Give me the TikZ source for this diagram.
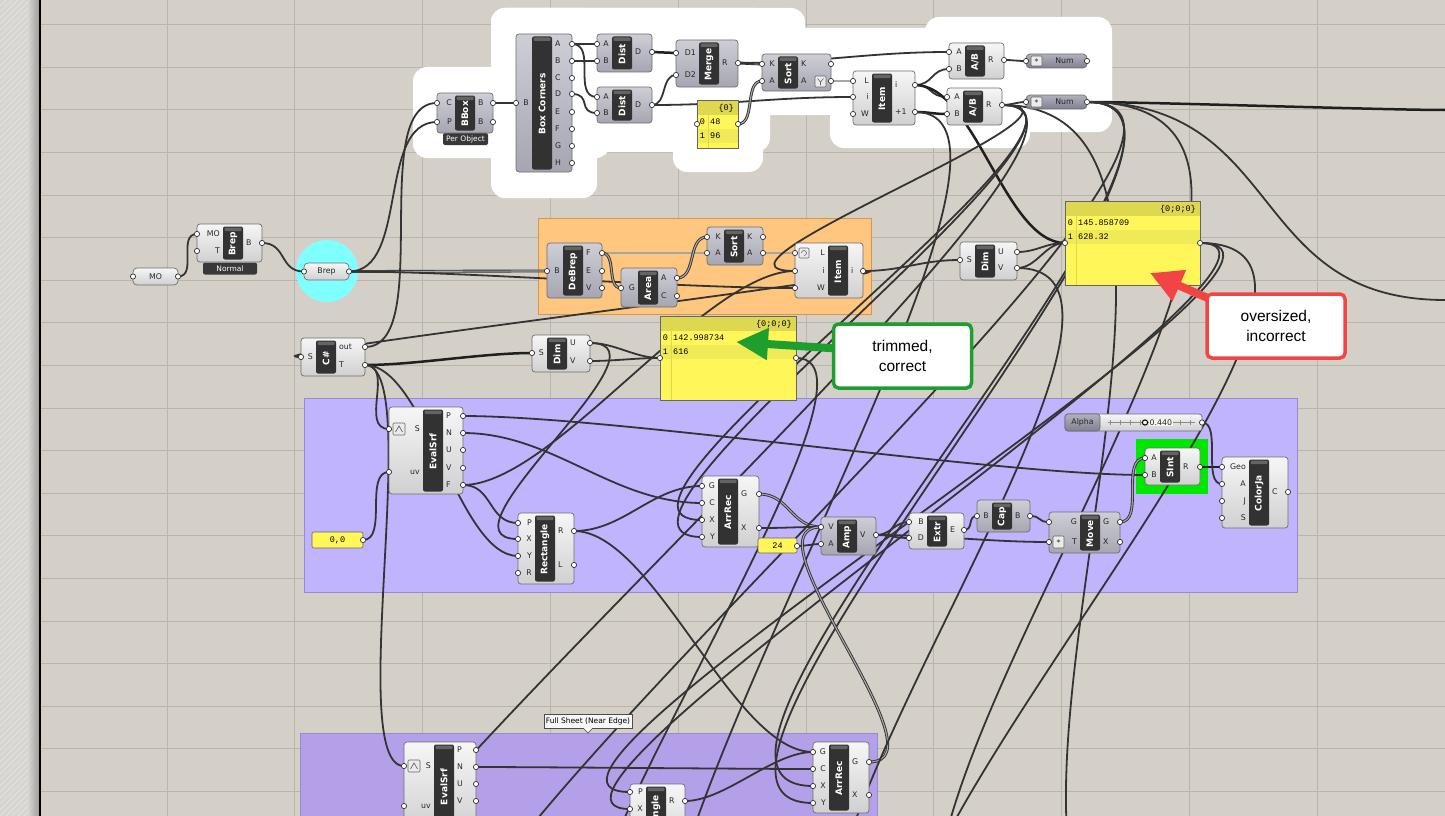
\documentclass[tikz,border=0pt]{standalone}
\usepackage{fontspec}
\setmainfont{DejaVu Sans}
\setsansfont{DejaVu Sans}
\newfontfamily\callfont{Liberation Sans}
\newfontfamily\panelfont{Liberation Mono}
\usetikzlibrary{arrows.meta}

\definecolor{canvas}{RGB}{212,208,200}
\definecolor{gridc}{RGB}{184,180,174}
\definecolor{stripc}{RGB}{214,212,206}
\definecolor{wirec}{RGB}{52,52,52}
\definecolor{ghedge}{RGB}{110,110,110}
\definecolor{ghtop}{RGB}{246,246,246}
\definecolor{ghbot}{RGB}{208,208,208}
\definecolor{dktop}{RGB}{206,206,214}
\definecolor{dkbot}{RGB}{166,166,178}
\definecolor{barc}{RGB}{50,50,50}
\definecolor{barhi}{RGB}{100,100,100}
\definecolor{panely}{RGB}{255,246,90}
\definecolor{panelh}{RGB}{222,216,80}
\definecolor{panelr}{RGB}{240,234,86}
\definecolor{orangeg}{RGB}{255,198,128}
\definecolor{orangeb}{RGB}{214,150,80}
\definecolor{purpa}{RGB}{192,180,255}
\definecolor{purpb}{RGB}{180,160,232}
\definecolor{purpe}{RGB}{150,138,212}
\definecolor{cyanc}{RGB}{128,255,255}
\definecolor{greenh}{RGB}{0,232,0}
\definecolor{redc}{RGB}{242,68,68}
\definecolor{greenc}{RGB}{30,158,46}
\definecolor{numtop}{RGB}{176,176,190}
\definecolor{numbot}{RGB}{128,128,146}

\pgfdeclarelayer{back}
\pgfdeclarelayer{wirelayer}
\pgfsetlayers{back,wirelayer,main}

% component: [style]{name}{x1}{y1}{x2}{y2}{bar x}{title}{side/y/label/id}
\newcommand{\ghcomp}[9][ghlite]{%
  \draw[#1] (#3,#4) rectangle (#5,#6);
  \fill[barc, rounded corners=2pt] (#7,#4+2.5) rectangle (#7+20,#6-2.5);
  \fill[barhi, rounded corners=1pt] (#7+1.5,#4+3.5) rectangle (#7+18.5,#4+7);
  \node[ghtitle] (#2) at (#7+10,{(#4+#6)/2+1}) {#8};
  \foreach \s/\py/\lab/\id in {#9}{%
    \ifnum\s=0
      \coordinate (#2-l-\id) at (#3,\py);
      \node[ghlab, anchor=east] (#2-l-\id-t) at (#7-2,\py) {\lab};
      \draw[ghport] (#3,\py) circle (2.6pt);
    \else
      \coordinate (#2-r-\id) at (#5,\py);
      \node[ghlab, anchor=west] (#2-r-\id-t) at (#7+22,\py) {\lab};
      \draw[ghport] (#5,\py) circle (2.6pt);
    \fi
  }%
}

% parameter: [style]{name}{x1}{y1}{x2}{y2}{text}
\newcommand{\ghparam}[7][ghpar]{%
  \draw[#1] (#3,#4) rectangle (#5,#6);
  \node[ghlab] (#2) at ({(#3+#5)/2},{(#4+#6)/2}) {#7};
  \coordinate (#2-l) at (#3,{(#4+#6)/2});
  \coordinate (#2-r) at (#5,{(#4+#6)/2});
  \draw[ghport] (#2-l) circle (2.6pt);
  \draw[ghport] (#2-r) circle (2.6pt);
}

% panel: {name}{x1}{y1}{x2}{y2}{header}{row 0}{row 1}
\newcommand{\ghpanel}[8]{%
  \draw[panelbox] (#2,#3) rectangle (#4,#5);
  \fill[panelh] (#2+0.5,#3+0.5) rectangle (#4-0.5,#3+15);
  \fill[panelr] (#2+0.5,#3+29) rectangle (#4-0.5,#3+43);
  \draw[panelh, line width=0.6pt] (#2+11,#3+15) -- (#2+11,#5-0.5);
  \node[paneltxt, anchor=east] (#1-h) at (#4-4,#3+8) {#6};
  \node[paneltxt] (#1-i0) at (#2+5.5,#3+22) {0};
  \node[paneltxt, anchor=west] (#1-v0) at (#2+13,#3+22) {#7};
  \node[paneltxt] (#1-i1) at (#2+5.5,#3+36) {1};
  \node[paneltxt, anchor=west] (#1-v1) at (#2+13,#3+36) {#8};
  \coordinate (#1-l) at (#2,{(#3+#5)/2});
  \coordinate (#1-r) at (#4,{(#3+#5)/2});
  \draw[ghport] (#1-l) circle (2.6pt);
  \draw[ghport] (#1-r) circle (2.6pt);
}

\begin{document}
\begin{tikzpicture}[x=1pt, y=-1pt,
    ghlite/.style={draw=ghedge, line width=0.7pt, rounded corners=3pt, top color=ghtop, bottom color=ghbot},
    ghdark/.style={draw=ghedge, line width=0.7pt, rounded corners=3pt, top color=dktop, bottom color=dkbot},
    ghpar/.style={ghlite, rounded corners=4pt},
    ghnum/.style={draw=ghedge, line width=0.7pt, rounded corners=4pt, top color=numtop, bottom color=numbot},
    ghtitle/.style={rotate=90, text=white, inner sep=0pt, font=\fontsize{9}{9}\selectfont\bfseries},
    ghlab/.style={inner sep=1pt, text=black!85, font=\fontsize{7.8}{8}\selectfont},
    ghport/.style={draw=black!80, fill=white, line width=0.7pt},
    ghtag/.style={fill=black!78, text=white, inner sep=0pt, minimum height=12pt, rounded corners=2pt, font=\fontsize{7.5}{8}\selectfont},
    ghicon/.style={draw=black!60, fill=black!8, line width=0.6pt, rounded corners=1pt},
    panelbox/.style={draw=black!60, fill=panely, line width=0.6pt},
    paneltxt/.style={inner sep=0pt, font=\panelfont\fontsize{8.5}{9}\selectfont},
    wire/.style={draw=wirec, line width=1.8pt},
    twire/.style={draw=black!88, line width=2.5pt},
    dwire/.style={draw=wirec, line width=0.9pt, double=black!35, double distance=1.1pt},
    ghw/.style={to path={.. controls +(#1,0) and +(-#1,0) .. (\tikztotarget)}},
    ghw/.default=40,
    notebox/.style={fill=white, line width=3.5pt, rounded corners=5pt, minimum width=138pt, minimum height=64pt, align=center, font=\callfont\fontsize{15.5}{20}\selectfont},
  ]

  \useasboundingbox (0,0) rectangle (1445,816);
  \clip (0,0) rectangle (1445,816);

  \begin{pgfonlayer}{back}
    % canvas, grid and window edge
    \fill[canvas] (0,0) rectangle (1445,816);
    \foreach \i in {1,...,11}
      \draw[gridc, line width=0.8pt] ({39.2+127.8*\i},0) -- ++(0,816);
    \foreach \j in {0,...,18}
      \draw[gridc, line width=0.8pt] (40,{24.6+42.6*\j}) -- ++(1405,0);
    \fill[stripc] (0,0) rectangle (40,816);
    \begin{scope}
      \clip (0,0) rectangle (40,816);
      \foreach \k in {0,6,...,870}
        \draw[black!12, line width=1.2pt] (0,\k) -- (40,{\k-40});
    \end{scope}
    \shade[left color=stripc, right color=black!45, opacity=0.8] (28,0) rectangle (40,816);
    \draw[black, line width=1.2pt] (40,0) -- (40,816);

    % groups
    \fill[white, rounded corners=14pt] (413,67) rectangle (610,158);
    \fill[white, rounded corners=14pt] (491,8) rectangle (597,198);
    \fill[white, rounded corners=14pt] (491,8) rectangle (770,152);
    \fill[white, rounded corners=14pt] (491,8) rectangle (805,70);
    \fill[white, rounded corners=14pt] (673,95) rectangle (763,172);
    \fill[white, rounded corners=14pt] (740,28) rectangle (1112,115);
    \fill[white, rounded corners=14pt] (830,40) rectangle (1030,148);
    \fill[white, rounded corners=14pt] (925,17) rectangle (1112,132);
    \draw[fill=orangeg, draw=orangeb, line width=0.8pt] (538,218) rectangle (871,314);
    \draw[fill=purpa, draw=purpe, line width=0.8pt] (304,398) rectangle (1297,592);
    \draw[fill=purpb, draw=purpe, line width=0.8pt] (300,733) rectangle (877,840);
    \fill[cyanc] (327,271) circle (31pt);
    \fill[greenh] (1136,439) rectangle (1208,494);
  \end{pgfonlayer}

  % top group
  \node[ghtag, minimum width=45pt] (perobj) at (465.5,139) {Per Object};
  \ghcomp[ghdark]{bbox}{437}{93}{493}{133}{455}{BBox}{0/103/C/c, 0/122/P/p, 1/103/B/b1, 1/122/B/b2}
  \ghcomp[ghdark]{corners}{516}{34}{572}{172}{532}{Box Corners}{0/103/B/b, 1/44/A/a, 1/61/B/b, 1/78/C/c, 1/94/D/d, 1/112/E/e, 1/129/F/f, 1/146/G/g, 1/163/H/h}
  \ghcomp[ghdark]{dista}{597}{34}{652}{72}{612}{Dist}{0/44/A/a, 0/61/B/b, 1/52/D/d}
  \ghcomp[ghdark]{distb}{597}{87}{652}{123}{612}{Dist}{0/97/A/a, 0/113/B/b, 1/105/D/d}
  \ghcomp[ghdark]{merge}{676}{40}{738}{87}{699}{Merge}{0/53/D1/da, 0/75/D2/db, 1/63/R/r}
  \ghpanel{panel0}{697}{100}{738}{148}{\{0\}}{48}{96}
  \ghcomp[ghdark]{sorta}{762}{54}{831}{91}{778}{Sort}{0/64/K/k, 0/81/A/a, 1/64/K/k, 1/81/A/a}
  \draw[ghicon] (815,76) rectangle (826,87);
  \draw[black!60, line width=0.6pt] (817.5,78.5) -- (820.5,82) -- (823.5,78.5) (820.5,82) -- (820.5,85);
  \ghcomp{itema}{853}{71}{915}{125}{872}{Item}{0/81/L/l, 0/97/i/i, 0/114/W/w, 1/85/i/i, 1/112/+1/p}
  \ghcomp{diva}{949}{43}{1004}{79}{965}{A/B}{0/52/A/a, 0/69/B/b, 1/60/R/r}
  \ghcomp{divb}{947}{88}{1002}{125}{963}{A/B}{0/97/A/a, 0/114/B/b, 1/105/R/r}
  \ghparam[ghnum]{numa}{1026}{54}{1087}{68}{\hspace*{16pt}Num}
  \ghparam[ghnum]{numb}{1026}{95}{1087}{109}{\hspace*{16pt}Num}
  \draw[ghicon] (1031,56) rectangle (1042,66);
  \draw[ghicon] (1031,97) rectangle (1042,107);
  \node[ghlab, inner sep=0pt] (numaicon) at (1036.5,61.5) {*};
  \node[ghlab, inner sep=0pt] (numbicon) at (1036.5,102.5) {*};

  % brep input
  \ghparam{mo}{133}{268}{178}{285}{MO}
  \node[ghtag, minimum width=54pt] (normal) at (230,268.5) {Normal};
  \ghcomp{brep}{197}{224}{262}{262}{223}{Brep}{0/234/MO/mo, 0/251/T/t, 1/243/B/b}
  \ghparam{brepp}{304}{263}{349}{280}{Brep}

  % orange group
  \ghcomp[ghdark]{debrep}{547}{243}{602}{298}{563}{DeBrep}{0/271/B/b, 1/253/F/f, 1/271/E/e, 1/288/V/v}
  \ghcomp[ghdark]{area}{621}{268}{677}{307}{638}{Area}{0/288/G/g, 1/278/A/a, 1/296/C/c}
  \ghcomp[ghdark]{sortb}{707}{227}{763}{265}{724}{Sort}{0/237/K/k, 0/253/A/a, 1/237/K/k, 1/253/A/a}
  \ghcomp{itemb}{795}{243}{863}{298}{828}{Item}{0/253/L/l, 0/271/i/i, 0/288/W/w, 1/271/i/i}
  \draw[ghicon] (799,248) rectangle (809,258);
  \draw[black!60, line width=0.6pt] (801.5,253) arc (180:-90:2.5pt);

  \ghcomp{dima}{960}{242}{1017}{280}{975}{Dim}{0/260/S/s, 1/252/U/u, 1/268/V/v}
  \ghpanel{panelbig}{1065}{201}{1200}{285}{\{0;0;0\}}{145.858709}{628.32}

  % c# and dim
  \ghcomp{csharp}{301}{338}{365}{376}{316}{C\#}{0/357/S/s, 1/347/out/out, 1/365/T/t}
  \ghcomp{dimb}{532}{335}{590}{372}{547}{Dim}{0/353/S/s, 1/343/U/u, 1/361/V/v}
  \ghpanel{panelmid}{660}{316}{796}{400}{\{0;0;0\}}{142.998734}{616}

  % purple group
  \ghcomp{evala}{389}{407}{463}{494}{423}{EvalSrf}{0/429/S/s, 0/472/uv/uv, 1/416/P/p, 1/433/N/n, 1/450/U/u, 1/468/V/v, 1/485/F/f}
  \draw[ghicon] (393,423) rectangle (405,435);
  \draw[black!60, line width=0.7pt] (395.5,432) -- (399,426) -- (402.5,432);
  \draw[panelbox, rounded corners=2pt] (312,532) rectangle (363,548);
  \node[paneltxt] (panel00) at (337.5,540) {0,0};
  \coordinate (panel00-r) at (363,540);
  \draw[ghport] (panel00-r) circle (2.6pt);
  \ghcomp{recta}{518}{513}{574}{584}{535}{Rectangle}{0/523/P/p, 0/539/X/x, 0/556/Y/y, 0/573/R/r, 1/531/R/r, 1/565/L/l}
  \ghcomp{arra}{702}{476}{759}{547}{718}{ArrRec}{0/486/G/g, 0/503/C/c, 0/520/X/x, 0/537/Y/y, 1/494/G/g, 1/528/X/x}
  \draw[panelbox, rounded corners=2pt] (758,538) rectangle (797,553);
  \node[paneltxt] (panel24) at (777.5,545.5) {24};
  \coordinate (panel24-l) at (758,546);
  \coordinate (panel24-r) at (797,546);
  \draw[ghport] (panel24-r) circle (2.6pt);
  \ghcomp[ghdark]{amp}{821}{517}{876}{555}{837}{Amp}{0/527/V/v, 0/544/A/a, 1/535/V/v}
  \ghcomp{extr}{909}{513}{964}{549}{927}{Extr}{0/522/B/b, 0/538/D/d, 1/530/E/e}
  \ghcomp[ghdark]{cap}{977}{500}{1030}{532}{992}{Cap}{0/516/B/b, 1/516/B/b}
  \ghcomp[ghdark]{move}{1049}{512}{1120}{553}{1080}{Move}{0/522/G/g, 0/542/T/t, 1/522/G/g, 1/542/X/x}
  \draw[ghicon] (1053,536) rectangle (1064,548);
  \node[ghlab, inner sep=0pt] (moveicon) at (1058.5,542.5) {*};
  \ghcomp{sint}{1145}{448}{1200}{485}{1160}{SInt}{0/458/A/a, 0/475/B/b, 1/467/R/r}
  \ghcomp{colorja}{1222}{457}{1288}{528}{1249}{ColorJa}{0/467/Geo/geo, 0/484/A/a, 0/501/J/j, 0/518/S/s, 1/492/C/c}

  % slider
  \draw[ghlite] (1065,414) rectangle (1202,431);
  \draw[ghnum, rounded corners=3pt] (1065,414) rectangle (1100,431);
  \node[ghlab] (alpha) at (1082.5,422.5) {Alpha};
  \draw[black!45, line width=0.6pt] (1108,422.5) -- (1195,422.5);
  \foreach \t in {1110,1120,...,1190}
    \draw[black!45, line width=0.5pt] (\t,420) -- (\t,425);
  \draw[black, fill=white, line width=1pt] (1145,422.5) circle (2.6pt);
  \node[ghlab, anchor=west, fill=ghtop, inner sep=0.5pt] (alphaval) at (1149,422.5) {0.440};
  \coordinate (slider-r) at (1202,422.5);
  \draw[ghport] (slider-r) circle (2.6pt);

  % lower purple group
  \node[draw=black!70, fill=black!3, inner sep=2pt, minimum height=14pt, font=\fontsize{7.5}{8}\selectfont] (fullsheet) at (588,721) {Full Sheet (Near Edge)};
  \fill[black!3] (583,727.5) -- (593,727.5) -- (588,733) -- cycle;
  \draw[black!70, line width=0.4pt] (583,728) -- (588,733) -- (593,728);
  \ghcomp{evalb}{404}{742}{476}{830}{434}{EvalSrf}{0/766/S/s, 0/806/uv/uv, 1/750/P/p, 1/767/N/n, 1/784/U/u, 1/801/V/v}
  \draw[ghicon] (408,760) rectangle (420,772);
  \draw[black!60, line width=0.7pt] (410.5,769) -- (414,763) -- (417.5,769);
  \ghcomp{rectb}{630}{784}{685}{855}{646}{Rectangle}{0/792/P/p, 0/809/X/x, 1/801/R/r}
  \ghcomp{arrb}{813}{742}{869}{813}{829}{ArrRec}{0/752/G/g, 0/769/C/c, 0/786/X/x, 0/803/Y/y, 1/762/G/g, 1/795/X/x}

  % free ends of wires leaving the view
  \coordinate (offnum) at (1445,110);
  \coordinate (offa) at (330,1000);
  \coordinate (offb) at (480,1000);
  \coordinate (offc) at (600,980);
  \coordinate (offd) at (700,1000);
  \coordinate (offe) at (880,960);
  \coordinate (offr) at (1445,300);
  \coordinate (offs) at (1040,1000);
  \coordinate (offt) at (1180,980);
  \coordinate (offu) at (960,1000);

  \begin{pgfonlayer}{wirelayer}
    % top group
    \draw[wire] (bbox-r-b1) to[ghw=10] (corners-l-b);
    \draw[wire] (corners-r-a) to[ghw=15] (dista-l-a);
    \draw[wire] (corners-r-a) to[ghw=25] (distb-l-a);
    \draw[wire] (corners-r-b) to[ghw=12] (dista-l-b);
    \draw[wire] (corners-r-d) to[ghw=20] (distb-l-b);
    \draw[twire] (dista-r-d) to[ghw=12] (merge-l-da);
    \draw[wire] (distb-r-d) to[ghw=15] (merge-l-db);
    \draw[wire] (distb-r-d) to[ghw=80] (itema-l-i);
    \draw[dwire] (merge-r-r) to[ghw=12] (sorta-l-k);
    \draw[wire] (merge-r-r) to[ghw=80] (diva-l-a);
    \draw[dwire] (panel0-r) to[ghw=18] (sorta-l-a);
    \draw[dwire] (sorta-r-a) to[ghw=12] (itema-l-l);
    \draw[wire] (itema-r-i) to[ghw=18] (diva-l-b);
    \draw[wire] (itema-r-i) to[ghw=18] (divb-l-a);
    \draw[twire] (itema-r-p) to[ghw=15] (divb-l-b);
    \draw[wire] (diva-r-r) to[ghw=10] (numa-l);
    \draw[wire] (divb-r-r) to[ghw=10] (numb-l);
    \draw[twire] (numb-r) to[ghw=60] (offnum);
    \draw[twire] (itema-r-i) to[ghw=60] (panelbig-l);

    % brep and orange group
    \draw[wire] (mo-r) to[ghw=20] (brep-l-mo);
    \draw[wire] (brep-r-b) to[ghw=25] (brepp-l);
    \draw[dwire] (brepp-r) to[ghw=60] (debrep-l-b);
    \draw[wire] (brepp-r) to[ghw=60] (bbox-l-p);
    \draw[wire] (brepp-r) to[ghw=120] (itemb-l-w);
    \draw[wire] (csharp-r-out) to[ghw=70] (bbox-l-c);
    \draw[dwire] (debrep-r-f) to[ghw=30] (sortb-l-a);
    \draw[dwire] (debrep-r-f) to[ghw=15] (area-l-g);
    \draw[dwire] (area-r-a) to[ghw=20] (sortb-l-k);
    \draw[dwire] (sortb-r-a) to[ghw=15] (itemb-l-l);
    \draw[wire] (itemb-r-i) to[ghw=40] (dima-l-s);
    \draw[wire] (dima-r-u) to[ghw=20] (panelbig-l);
    \draw[wire] (dima-r-v) to[ghw=20] (panelbig-l);
    \draw[wire] (itemb-r-i) to[ghw=80] (csharp-l-s);
    \draw[wire] (divb-r-r) to[ghw=120] (itemb-l-i);

    % c# and dim
    \draw[twire] (csharp-r-t) to[ghw=50] (dimb-l-s);
    \draw[wire] (dimb-r-u) to[ghw=25] (panelmid-l);
    \draw[wire] (dimb-r-v) to[ghw=25] (panelmid-l);
    \draw[wire] (csharp-r-t) to[ghw=30] (evala-l-s);
    \draw[wire] (csharp-r-t) to[ghw=60] (recta-l-y);
    \draw[wire] (dimb-r-u) to[ghw=90] (recta-l-x);
    \draw[wire] (csharp-r-t) to[ghw=60] (evalb-l-s);

    % purple group
    \draw[wire] (panel00-r) to[ghw=25] (evala-l-uv);
    \draw[wire] (evala-r-f) to[ghw=30] (recta-l-p);
    \draw[wire] (evala-r-n) to[ghw=90] (arra-l-c);
    \draw[wire] (evala-r-f) to[ghw=90] (itemb-l-i);
    \draw[wire] (evala-r-p) to[ghw=150] (sint-l-b);
    \draw[wire] (recta-r-r) to[ghw=50] (arra-l-g);
    \draw[wire] (recta-r-r) to[ghw=80] (arrb-l-g);
    \draw[dwire] (arra-r-g) to[ghw=30] (amp-l-v);
    \draw[wire] (arra-r-x) to[ghw=30] (amp-l-v);
    \draw[wire] (panel24-r) to[ghw=10] (amp-l-a);
    \draw[wire] (amp-r-v) to[ghw=15] (extr-l-b);
    \draw[wire] (amp-r-v) to[ghw=15] (extr-l-d);
    \draw[wire] (amp-r-v) to[ghw=60] (move-l-t);
    \draw[wire] (extr-r-e) to[ghw=10] (cap-l-b);
    \draw[wire] (cap-r-b) to[ghw=12] (move-l-g);
    \draw[dwire] (move-r-g) to[ghw=25] (sint-l-a);
    \draw[twire] (sint-r-r) to[ghw=10] (colorja-l-geo);
    \draw[wire] (slider-r) to[ghw=20] (colorja-l-a);

    % long wires
    \draw[wire] (divb-r-r) to[ghw=150] (arra-l-x);
    \draw[wire] (divb-r-r) to[ghw=150] (arra-l-y);
    \draw[wire] (numb-r) to[ghw=200] (arrb-l-x);
    \draw[wire] (numb-r) to[ghw=200] (arrb-l-y);
    \draw[wire] (panelbig-r) to[ghw=180] (rectb-l-p);
    \draw[wire] (panelbig-r) to[ghw=160] (rectb-l-x);
    \draw[wire] (divb-r-r) to[ghw=200] (offa);
    \draw[wire] (numb-r) to[ghw=250] (offb);
    \draw[wire] (panelmid-r) to[ghw=120] (offc);
    \draw[wire] (itema-r-p) to[ghw=180] (offd);
    \draw[wire] (evalb-r-n) to[ghw=60] (arrb-l-c);
    \draw[wire] (rectb-r-r) to[ghw=40] (arrb-l-g);
    \draw[dwire] (arrb-r-g) to[ghw=80] (amp-l-v);
    \draw[wire] (dima-r-v) to[ghw=200] (offe);
    \draw[wire] (numb-r) to[ghw=200] (offr);
    \draw[wire] (numb-r) to[ghw=380] (offs);
    \draw[wire] (divb-r-r) to[ghw=300] (offt);
    \draw[wire] (panelbig-r) to[ghw=260] (offu);
  \end{pgfonlayer}

  % notes
  \coordinate (overtip) at (1150,273);
  \coordinate (overtail) at (1240,312);
  \draw[redc, line width=8pt, -{Triangle[length=32pt,width=32pt]}] (overtail) -- (overtip);
  \node[notebox, draw=redc] (oversized) at (1276,326) {oversized,\\incorrect};
  \coordinate (trimtip) at (736,342);
  \coordinate (trimtail) at (860,350);
  \draw[greenc, line width=8pt, -{Triangle[length=32pt,width=30pt]}] (trimtail) -- (trimtip);
  \node[notebox, draw=greenc] (trimmed) at (902.5,356) {trimmed,\\correct};
\end{tikzpicture}
\end{document}
